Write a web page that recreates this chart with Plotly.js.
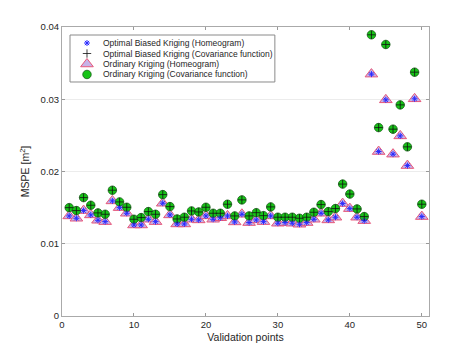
<!DOCTYPE html>
<html>
<head>
<meta charset="utf-8">
<script src="https://cdn.plot.ly/plotly-3.0.1.min.js"></script>
<style>html,body{margin:0;padding:0;background:#fff;}#chart{width:474px;height:355px;}</style>
</head>
<body>
<div id="chart"></div>
<script>
const points = [1,2,3,4,5,6,7,8,9,10,11,12,13,14,15,16,17,18,19,20,21,22,23,24,25,26,27,28,29,30,31,32,33,34,35,36,37,38,39,40,41,42,43,44,45,46,47,48,49,50];
const mspeHomeogram = [0.01385,0.01353,0.01459,0.01399,0.01325,0.01306,0.01593,0.0150,0.01422,0.0126,
  0.0126,0.01339,0.01306,0.01561,0.01399,0.01274,0.01274,0.01339,0.0133,0.01385,
  0.01339,0.0136,0.01385,0.01302,0.01408,0.01293,0.0133,0.01306,0.01385,0.01284,
  0.01293,0.01284,0.0127,0.01293,0.01339,0.01422,0.0133,0.01367,0.01556,0.01486,
  0.01367,0.0132,0.03348,0.02276,0.02992,0.0224,0.02493,0.02082,0.03006,0.01376];
const mspeCovariance = [0.0150,0.01459,0.01639,0.01533,0.01427,0.01408,0.01741,0.01579,0.01505,0.01339,
  0.01362,0.01445,0.01408,0.0168,0.01514,0.01343,0.01367,0.01454,0.0144,0.01505,
  0.01422,0.01422,0.01547,0.01385,0.01607,0.01385,0.0143,0.01389,0.0151,0.01367,
  0.01367,0.01367,0.01353,0.01367,0.01436,0.01542,0.01445,0.01487,0.01826,0.01688,
  0.01482,0.01376,0.03892,0.02608,0.03758,0.02586,0.02922,0.02341,0.03375,0.01547];
const seriesNames = ['Optimal Biased Kriging (Homeogram)','Optimal Biased Kriging (Covariance function)','Ordinary Kriging (Homeogram)','Ordinary Kriging (Covariance function)'];
const xTicks = [0,10,20,30,40,50];
const yTicks = [0,0.01,0.02,0.03,0.04];
const yTickText = ['0','0.01','0.02','0.03','0.04'];

const font = 'Liberation Sans, Arial, sans-serif';
const styles = {
  star:   {symbol: 'asterisk-open', size: 5, color: '#2a2aff', line: {color: '#2a2aff', width: 1}},
  plus:   {symbol: 'cross-thin-open', size: 6, color: '#111', line: {color: '#111', width: 0.8}},
  tri:    {symbol: 'triangle-up', size: 11, color: '#c6b3e8', line: {color: '#e8587a', width: 1}},
  circle: {symbol: 'circle', size: 8.5, color: '#16c416', line: {color: '#1d5e1d', width: 0.8}}
};

// compact legend (layout geometry in paper fractions of the plot area)
const legBox = {x0: 0.0218, x1: 0.580, y0: 0.8097, y1: 0.9723};
const legGlyphX = 0.0681, legTextX = 0.1076;
const legRowTop = 0.9446, legRowStep = 0.0363;
const legOrder = ['star', 'plus', 'tri', 'circle'];
const legRowsY = legOrder.map((_, k) => legRowTop - k * legRowStep);

const traces = [
  {x: points, y: mspeHomeogram, name: seriesNames[2], type: 'scatter', mode: 'markers', marker: styles.tri},
  {x: points, y: mspeCovariance, name: seriesNames[3], type: 'scatter', mode: 'markers', marker: styles.circle},
  {x: points, y: mspeHomeogram, name: seriesNames[0], type: 'scatter', mode: 'markers', marker: styles.star},
  {x: points, y: mspeCovariance, name: seriesNames[1], type: 'scatter', mode: 'markers', marker: styles.plus}
];
// legend glyphs on a hidden overlay axis spanning the plot area
legOrder.forEach((key, k) => {
  traces.push({x: [legGlyphX], y: [legRowsY[k]], xaxis: 'x2', yaxis: 'y2', type: 'scatter', mode: 'markers',
    marker: styles[key], hoverinfo: 'skip', showlegend: false, cliponaxis: false});
});

const annotations = seriesNames.map((t, k) => ({
  xref: 'paper', yref: 'paper', x: legTextX, y: legRowsY[k], xanchor: 'left', yanchor: 'middle',
  text: t, showarrow: false, font: {family: font, size: 8.5, color: '#262626'}
}));

const layout = {
  width: 474, height: 355,
  margin: {l: 62, r: 45, t: 27, b: 39},
  paper_bgcolor: '#fff', plot_bgcolor: '#fff',
  font: {family: font, size: 9.5, color: '#262626'},
  showlegend: false,
  xaxis: {range: [0, 51], tickvals: xTicks, ticktext: xTicks.map(String), ticks: 'inside', ticklen: 3, tickcolor: '#999',
    showline: true, linecolor: '#aaa', linewidth: 1, mirror: 'ticks', showgrid: false, zeroline: false,
    title: {text: 'Validation points', font: {family: font, size: 10.5, color: '#262626'}, standoff: 4}},
  yaxis: {range: [0, 0.04], tickvals: yTicks, ticktext: yTickText, ticks: 'inside', ticklen: 3, tickcolor: '#999',
    showline: true, linecolor: '#aaa', linewidth: 1, mirror: 'ticks', showgrid: true, gridcolor: '#ececec', zeroline: false,
    title: {text: 'MSPE [m<sup>2</sup>]', font: {family: font, size: 10.5, color: '#262626'}, standoff: 8}},
  xaxis2: {overlaying: 'x', range: [0, 1], visible: false, fixedrange: true},
  yaxis2: {overlaying: 'y', range: [0, 1], visible: false, fixedrange: true},
  shapes: [{type: 'rect', xref: 'paper', yref: 'paper', x0: legBox.x0, x1: legBox.x1, y0: legBox.y0, y1: legBox.y1,
    fillcolor: '#fff', line: {color: '#8a8a8a', width: 1}, layer: 'below'}],
  annotations: annotations
};
Plotly.newPlot('chart', traces, layout, {displayModeBar: false, staticPlot: true});
</script>
</body>
</html>
